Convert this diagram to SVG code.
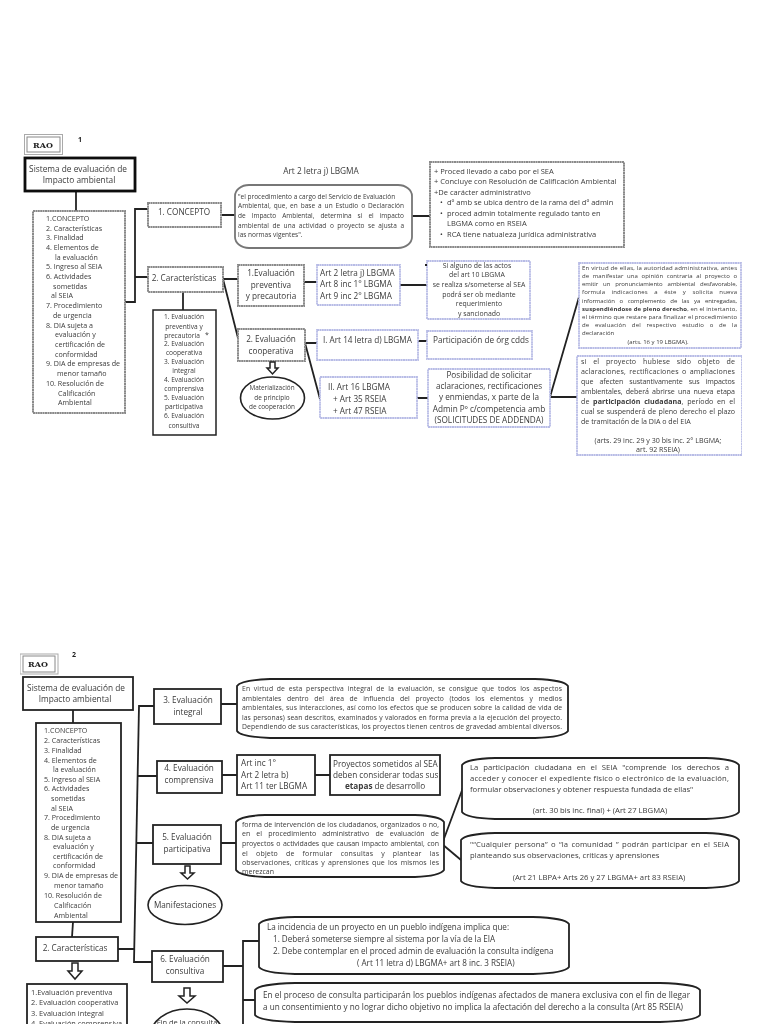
<svg xmlns="http://www.w3.org/2000/svg" width="768" height="1024" viewBox="0 0 768 1024">
<style>
text{font-family:"Open Sans","Noto Sans","DejaVu Sans",sans-serif;fill:#3a3a3a}
.m{text-anchor:middle}
.l{font-size:7.1px}.e{font-size:6.6px}.s8{font-size:8.2px}
.g{fill:#fff;stroke:#8a8a8a;stroke-width:2;stroke-dasharray:2 .4}
.b{fill:#fff;stroke:#b8bce6;stroke-width:1.8;stroke-dasharray:2 .4}
.k{fill:#fff;stroke:#222;stroke-width:1.8}
.c{fill:none;stroke:#222;stroke-width:1.8}
.a{fill:#fff;stroke:#222;stroke-width:1.5}
.rao{font-family:"DejaVu Serif",serif;font-weight:bold;font-size:8px;fill:#222}
.h{font-weight:bold;font-size:7px;fill:#222}
</style>
<defs><filter id="soft" x="0" y="0" width="100%" height="100%"><feGaussianBlur stdDeviation="0.3"/></filter></defs>
<rect width="768" height="1024" fill="#fff"/>
<g filter="url(#soft)">
<g id="connectors">
<path class="c" d="M76 192V211M125 302H135V209H148M135 277H148M183 292V310M221 215H236M412 216H430M223 279H238M223 279L238 338M304 282H317M400 285H427M305 343H317M305 343L320 399M418 341H427M415 398H429M550 397L579 297M550 397H577"/>
<path class="c" d="M73 710V723M73 922L72 937M154 706H139L134 962H152M137 776H157M137 843H153M118 949H134M221 704H238M222 775H237M315 775H330M221 843H237M442 844L464 785M442 844L461 860M223 966H243M259 941H243V1024M243 1000H255"/>
</g>
<g id="rao1"><rect x="24.500" y="134.500" width="38" height="20" fill="#fff" stroke="#aaa" stroke-width="1"/><rect x="27" y="137" width="33" height="15" fill="#fff" stroke="#888" stroke-width="1"/><text class="rao m" x="43" y="148">RAO</text></g>
<text class="h" x="78" y="142">1</text>
<g id="sistema1"><rect x="25" y="158" width="110" height="33" fill="#fff" stroke="#111" stroke-width="2.8"/><text class="m" font-size="8.300" x="78" y="172">Sistema de evaluación de</text><text class="m" font-size="8.300" x="79" y="183">Impacto ambiental</text></g>
<g id="lista1"><rect class="g" x="33" y="211" width="92" height="202"/>
<g class="l"><text x="46" y="221">1.CONCEPTO</text><text x="46" y="231">2. Características</text><text x="46" y="240">3. Finalidad</text><text x="46" y="250">4. Elementos de</text><text x="55" y="260">la evaluación</text><text x="46" y="269">5. Ingreso al SEIA</text><text x="46" y="279">6. Actividades</text><text x="53" y="289">sometidas</text><text x="51" y="298">al SEIA</text><text x="46" y="308">7. Procedimiento</text><text x="53" y="318">de urgencia</text><text x="46" y="328">8. DIA sujeta a</text><text x="55" y="337">evaluación y</text><text x="55" y="347">certificación de</text><text x="55" y="357">conformidad</text><text x="46" y="366">9.  DIA de empresas de</text><text x="57" y="376">menor tamaño</text><text x="46" y="386">10. Resolución de</text><text x="58" y="396">Calificación</text><text x="58" y="405">Ambiental</text></g></g>
<g id="concepto1"><rect class="g" x="148" y="203" width="73" height="24"/><text class="s8 m" x="184" y="215">1. CONCEPTO</text></g>
<g id="carac1"><rect class="g" x="148" y="267" width="75" height="25"/><text class="s8 m" x="184" y="281">2. Características</text></g>
<g id="evals1"><rect fill="#fff" stroke="#222" stroke-width="1.5" x="153" y="310" width="63" height="125"/>
<g class="e m"><text x="184" y="319">1. Evaluación</text><text x="184" y="329">preventiva y</text><text x="182" y="338">precautoria</text><text x="184" y="346">2. Evaluación</text><text x="184" y="355">cooperativa</text><text x="184" y="364">3. Evaluación</text><text x="184" y="373">integral</text><text x="184" y="382">4. Evaluación</text><text x="184" y="391">comprensiva</text><text x="184" y="400">5. Evaluación</text><text x="184" y="409">participativa</text><text x="184" y="418">6. Evaluación</text><text x="184" y="428">consultiva</text></g><text font-size="7" x="205" y="337">*</text></g>
<text class="m" font-size="8.300" x="321" y="174">Art 2 letra j) LBGMA</text>
<g id="definicion"><rect x="235" y="185" width="177" height="63" rx="14" ry="11" fill="#fff" stroke="#777" stroke-width="1.8"/>
<g font-size="6.500"><text x="238" y="199">"el procedimiento a cargo del Servicio de Evaluación</text><text x="238" y="208" word-spacing="1.2" textLength="166">Ambiental, que, en base a un Estudio o Declaración</text><text x="238" y="218" word-spacing="4.5" textLength="166">de Impacto Ambiental, determina si el impacto</text><text x="238" y="228" word-spacing="1.75" textLength="166">ambiental de una actividad o proyecto se ajusta a</text><text x="238" y="237">las normas vigentes".</text></g></g>
<g id="rasgos"><rect class="g" x="430" y="162" width="194" height="85"/>
<g font-size="7.500"><text x="434" y="174">+ Proced llevado a cabo por el SEA</text><text x="434" y="184">+ Concluye con Resolución de Calificación Ambiental</text><text x="434" y="195">+De carácter administrativo</text><text x="440" y="205">•</text><text x="447" y="205">dº amb se ubica dentro de la rama del dº admin</text><text x="440" y="216">•</text><text x="447" y="216">proced admin totalmente regulado tanto en</text><text x="447" y="226">LBGMA como en RSEIA</text><text x="440" y="237">•</text><text x="447" y="237">RCA tiene natualeza jurídica administrativa</text></g></g>
<g id="prev"><rect class="g" x="238" y="265" width="66" height="41"/><g class="s8 m"><text x="271" y="276">1.Evaluación</text><text x="271" y="288">preventiva</text><text x="271" y="299">y precautoria</text></g></g>
<g id="arts"><rect class="b" x="317" y="265" width="83" height="40"/><g class="s8"><text x="320" y="276">Art 2 letra j) LBGMA</text><text x="320" y="287">Art 8 inc 1° LBGMA</text><text x="320" y="299">Art 9 inc 2° LBGMA</text></g></g>
<g id="si"><rect class="b" x="427" y="261" width="103" height="58"/><path class="c" d="M425 265H427"/><g font-size="6.900" class="m"><text x="477" y="268">Si alguno de las actos</text><text x="477" y="277">del art 10 LBGMA</text><text x="479" y="287">se realiza s/someterse al SEA</text><text x="479" y="297">podrá ser ob mediante</text><text x="479" y="306">requerimiento</text><text x="479" y="316">y sancionado</text></g></g>
<g id="coop"><rect class="g" x="238" y="329" width="67" height="32"/><g class="s8 m"><text x="271" y="342">2. Evaluación</text><text x="271" y="354">cooperativa</text></g></g>
<g id="i14"><rect class="b" x="317" y="330" width="101" height="30"/><text class="s8" x="323" y="343">I. Art 14 letra d) LBGMA</text></g>
<g id="org"><rect class="b" x="427" y="331" width="105" height="28"/><text class="s8" x="433" y="343">Participación de órg cdds</text></g>
<g id="ii16"><rect class="b" x="320" y="377" width="97" height="41"/><g class="s8"><text x="328" y="390">II. Art 16 LBGMA</text><text x="333" y="402">+ Art 35 RSEIA</text><text x="333" y="414">+ Art 47 RSEIA</text></g></g>
<g id="posib"><rect class="b" x="428" y="369" width="122" height="58"/><g class="s8 m"><text x="489" y="378">Posibilidad de solicitar</text><text x="489" y="389">aclaraciones, rectificaciones</text><text x="489" y="400">y enmiendas, x parte de la</text><text x="489" y="412">Admin Pº c/competencia amb</text><text x="489" y="423">(SOLICITUDES DE ADDENDA)</text></g></g>
<path id="flecha1" class="a" d="M270 362H275V368H278L272.500 374L267 368H270Z"/>
<g id="mat"><ellipse cx="272.500" cy="398" rx="32" ry="21" fill="#fff" stroke="#222" stroke-width="1.6"/><g font-size="6.400" class="m"><text x="272" y="390">Materialización</text><text x="272" y="400">de principio</text><text x="272" y="409">de cooperación</text></g></g>
<g id="virtud"><rect class="b" x="579" y="263" width="162" height="85"/><g font-size="6"><text x="582" y="270" textLength="155">En virtud de ellas, la autoridad administrativa, antes</text><text x="582" y="278" word-spacing="2" textLength="155">de manifestar una opinión contraria al proyecto o</text><text x="582" y="286" word-spacing="3.5" textLength="155">emitir un pronunciamiento ambiental desfavorable,</text><text x="582" y="294" word-spacing="4.7" textLength="155">formula indicaciones a éste y solicita nueva</text><text x="582" y="303" word-spacing="3.3" textLength="155">información o complemento de las ya entregadas,</text><text x="582" y="311" textLength="155"><tspan font-weight="bold">suspendiéndose de pleno derecho</tspan>, en el intertanto,</text><text x="582" y="319" textLength="155">el término que restare para finalizar el procedimiento</text><text x="582" y="327" word-spacing="4" textLength="155">de evaluación del respectivo estudio o de la</text><text x="582" y="335">declaración</text><text x="658" y="344" class="m">(arts. 16 y 19 LBGMA).</text></g></g>
<g id="partic"><rect class="b" x="577" y="356" width="165" height="99"/><g font-size="7.100"><text x="581" y="364" word-spacing="4.7" textLength="154">si el proyecto hubiese sido objeto de</text><text x="581" y="374" word-spacing="1.3" textLength="154">aclaraciones, rectificaciones o ampliaciones</text><text x="581" y="384" word-spacing="4.5" textLength="154">que afecten sustantivamente sus impactos</text><text x="581" y="394" word-spacing="1.4" textLength="154">ambientales, deberá abrirse una nueva etapa</text><text x="581" y="404" word-spacing="1.8" textLength="154">de <tspan font-weight="bold">participación ciudadana</tspan>, período en el</text><text x="581" y="414" word-spacing=".6" textLength="154">cual se suspenderá de pleno derecho el plazo</text><text x="581" y="424">de tramitación de la DIA o del EIA</text><text class="m" x="658" y="443">(arts. 29 inc. 29 y 30 bis inc. 2° LBGMA;</text><text class="m" x="658" y="452">art. 92 RSEIA)</text></g></g>

<g id="rao2"><rect x="20" y="654" width="38" height="20" fill="#fff" stroke="#aaa" stroke-width="1"/><rect x="23" y="656" width="32" height="16" fill="#fff" stroke="#888" stroke-width="1"/><text class="rao m" x="38" y="667">RAO</text></g>
<text class="h" x="72" y="657">2</text>
<g id="sistema2"><rect class="k" x="23" y="677" width="110" height="33"/><text class="m" font-size="8.300" x="76" y="691">Sistema de evaluación de</text><text class="m" font-size="8.300" x="75" y="702">Impacto ambiental</text></g>
<g id="lista2"><rect class="k" x="36" y="723" width="85" height="199"/>
<g class="l"><text x="44" y="733">1.CONCEPTO</text><text x="44" y="743">2. Características</text><text x="44" y="753">3. Finalidad</text><text x="44" y="763">4. Elementos de</text><text x="53" y="772">la evaluación</text><text x="44" y="782">5. Ingreso al SEIA</text><text x="44" y="791">6. Actividades</text><text x="51" y="801">sometidas</text><text x="51" y="811">al SEIA</text><text x="44" y="820">7. Procedimiento</text><text x="51" y="830">de urgencia</text><text x="44" y="840">8. DIA sujeta a</text><text x="53" y="849">evaluación y</text><text x="53" y="859">certificación de</text><text x="53" y="868">conformidad</text><text x="44" y="878">9.  DIA de empresas de</text><text x="54" y="888">menor tamaño</text><text x="44" y="898">10. Resolución de</text><text x="54" y="908">Calificación</text><text x="54" y="918">Ambiental</text></g></g>
<g id="carac2"><rect class="k" x="36" y="937" width="82" height="24"/><text class="s8 m" x="75" y="951">2. Características</text></g>
<path id="flecha2" class="a" d="M72 963H78V971H82L75 979L68 971H72Z"/>
<g id="evals2"><rect class="k" x="27" y="984" width="100" height="60"/><g font-size="7.400"><text x="31" y="995">1.Evaluación preventiva</text><text x="31" y="1005">2. Evaluación cooperativa</text><text x="31" y="1016">3. Evaluación integral</text><text x="31" y="1026">4. Evaluación comprensiva</text></g></g>
<g id="integral"><rect class="k" x="154" y="689" width="67" height="35"/><g class="s8 m"><text x="188" y="703">3. Evaluación</text><text x="188" y="715">integral</text></g></g>
<g id="comprensiva"><rect class="k" x="157" y="761" width="65" height="32"/><g class="s8 m"><text x="189" y="771">4. Evaluación</text><text x="189" y="783">comprensiva</text></g></g>
<g id="participativa"><rect class="k" x="153" y="825" width="68" height="39"/><g class="s8 m"><text x="187" y="840">5. Evaluación</text><text x="187" y="852">participativa</text></g></g>
<path id="flecha3" class="a" d="M185 866H190V873H194L187.500 879L181 873H185Z"/>
<g id="manif"><ellipse cx="185" cy="905" rx="37" ry="19.500" fill="#fff" stroke="#222" stroke-width="1.6"/><text class="s8 m" x="185" y="908">Manifestaciones</text></g>
<g id="consultiva"><rect class="k" x="152" y="951" width="71" height="31"/><g class="s8 m"><text x="185" y="962">6. Evaluación</text><text x="185" y="974">consultiva</text></g></g>
<path id="flecha4" class="a" d="M184 988H190V996H195L187 1003L179 996H184Z"/>
<g id="rol"><ellipse cx="187" cy="1037" rx="37" ry="28" fill="#fff" stroke="#222" stroke-width="1.6"/><text font-size="7.500" class="m" x="187" y="1025">Fin de la consulta</text></g>
<g id="burbuja3"><path class="k" d="M237 686Q241 680 270 679H535Q564 680 568 686V731Q564 737 535 738H270Q241 737 237 731Z"/><g font-size="6.800"><text x="242" y="691" word-spacing="1.8" textLength="320">En virtud de esta perspectiva integral de la evaluación, se consigue que todos los aspectos</text><text x="242" y="701" word-spacing="3.8" textLength="320">ambientales dentro del área de influencia del proyecto (todos los elementos y medios</text><text x="242" y="710" word-spacing=".4" textLength="320">ambientales, sus interacciones, así como los efectos que se producen sobre la calidad de vida de</text><text x="242" y="720" word-spacing=".4" textLength="320">las personas) sean descritos, examinados y valorados en forma previa a la ejecución del proyecto.</text><text x="242" y="729" textLength="320">Dependiendo de sus características, los proyectos tienen centros de gravedad ambiental diversos.</text></g></g>
<g id="artinc"><rect class="k" x="237" y="755" width="78" height="40"/><g class="s8"><text x="241" y="766">Art inc 1°</text><text x="241" y="778">Art 2 letra b)</text><text x="241" y="789">Art 11 ter LBGMA</text></g></g>
<g id="etapas"><rect class="k" x="330" y="755" width="110" height="40"/><g class="s8"><text x="333" y="767">Proyectos sometidos al SEA</text><text x="333" y="778">deben considerar todas sus</text><text class="m" x="385" y="789"><tspan font-weight="bold">etapas</tspan> de desarrollo</text></g></g>
<g id="forma"><path class="k" d="M236 822Q240 816 265 815H415Q440 816 444 822V870Q440 876 415 877H265Q240 876 236 870Z"/><g font-size="7"><text x="242" y="827" word-spacing=".2" textLength="197">forma de intervención de los ciudadanos, organizados o no,</text><text x="242" y="836" word-spacing="4.3" textLength="197">en el procedimiento administrativo de evaluación de</text><text x="242" y="846" word-spacing=".7" textLength="197">proyectos o actividades que causan impacto ambiental, con</text><text x="242" y="856" word-spacing="6" textLength="197">el objeto de formular consultas y plantear las</text><text x="242" y="865" word-spacing="1.3" textLength="197">observaciones, críticas y aprensiones que los mismos les</text><text x="242" y="874">merezcan</text></g></g>
<g id="ciudadana"><path class="k" d="M462 765Q466 759 495 758H706Q735 759 739 765V812Q735 818 706 819H495Q466 818 462 812Z"/><g font-size="7.700"><text x="470" y="770" word-spacing="2.9" textLength="259">La participación ciudadana en el SEIA "comprende los derechos a</text><text x="470" y="781" textLength="259">acceder y conocer el expediente físico o electrónico de la evaluación,</text><text x="470" y="792">formular observaciones y obtener respuesta fundada de ellas"</text><text class="m" x="600" y="813">(art. 30 bis inc. final) + (Art 27 LBGMA)</text></g></g>
<g id="cualquier"><path class="k" d="M461 840Q465 834 495 833H706Q735 834 739 840V881Q735 887 706 888H495Q465 887 461 881Z"/><g font-size="7.700"><text x="470" y="847" word-spacing="1.100" textLength="259">"“Cualquier persona” o “la comunidad ” podrán participar en el SEIA</text><text x="470" y="858">planteando  sus observaciones, críticas y aprensiones</text><text class="m" x="599" y="880">(Art 21 LBPA+ Arts 26 y 27 LBGMA+ art 83 RSEIA)</text></g></g>
<g id="incidencia"><path class="k" d="M259 924Q263 918 295 917H533Q565 918 569 924V967Q565 973 533 974H295Q263 973 259 967Z"/><g font-size="8.100"><text x="267" y="930">La incidencia de un proyecto en un pueblo indígena implica que:</text><text x="273" y="942">1. Deberá someterse siempre al sistema por la vía de la EIA</text><text x="273" y="954">2. Debe contemplar en el proced admin de evaluación la consulta indígena</text><text x="357" y="966">( Art 11 letra d) LBGMA+ art 8 inc. 3 RSEIA)</text></g></g>
<g id="proceso"><path class="k" d="M255 990Q259 984 295 983H660Q696 984 700 990V1015Q696 1021 660 1022H295Q259 1021 255 1015Z"/><g font-size="8.200"><text x="263" y="998" textLength="427">En el proceso de consulta participarán los pueblos indígenas afectados   de manera exclusiva con el fin de llegar</text><text x="263" y="1010" textLength="420">a un consentimiento y no lograr  dicho objetivo no implica la afectación del derecho a la consulta (Art 85 RSEIA)</text></g></g>
</g>
</svg>
